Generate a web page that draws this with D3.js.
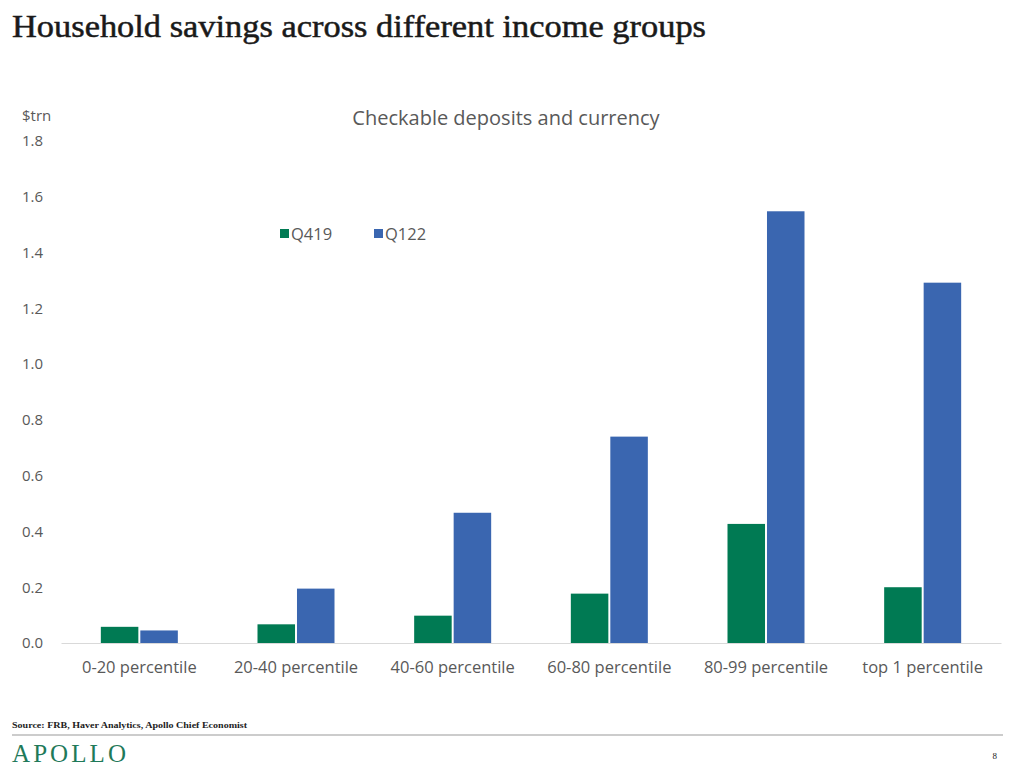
<!DOCTYPE html>
<html>
<head>
<meta charset="utf-8">
<script src="https://cdn.jsdelivr.net/npm/d3@7"></script>
<style>
    body { margin: 0; background: #fff; }
    svg { display: block; }
</style>
</head>
<body>
<svg id="chart" width="1024" height="775"></svg>
<script>
var categories = ['0-20 percentile', '20-40 percentile', '40-60 percentile', '60-80 percentile', '80-99 percentile', 'top 1 percentile'];
var seriesNames = ['Q419', 'Q122'];
var q419 = [0.058, 0.067, 0.098, 0.177, 0.427, 0.20];
var q122 = [0.045, 0.195, 0.467, 0.74, 1.548, 1.292];
var yTicks = [0, 0.2, 0.4, 0.6, 0.8, 1.0, 1.2, 1.4, 1.6, 1.8];

var colors = { Q419: '#007a53', Q122: '#3a66b0' };
var svg = d3.select('#chart');

var margin = { left: 61, right: 1001, top: 141, bottom: 643 };

var x = d3.scaleBand()
    .domain(categories)
    .range([margin.left, margin.right]);

var xInner = d3.scaleBand()
    .domain(seriesNames)
    .range([0, 77])
    .paddingInner(0.05);

var y = d3.scaleLinear()
    .domain([0, 1.8])
    .range([margin.bottom, margin.top]);

// title block
svg.append('text')
    .attr('x', 12)
    .attr('y', 37)
    .attr('textLength', 694)
    .attr('lengthAdjust', 'spacingAndGlyphs')
    .style('font-family', '"Liberation Serif", serif')
    .style('font-size', '31px')
    .style('fill', '#1a1a1a')
    .style('stroke', '#1a1a1a')
    .style('stroke-width', 0.5)
    .text('Household savings across different income groups');

svg.append('text')
    .attr('x', 506)
    .attr('y', 125)
    .attr('text-anchor', 'middle')
    .style('font-family', '"Open Sans", sans-serif')
    .style('font-size', '20px')
    .style('fill', '#595959')
    .text('Checkable deposits and currency');

svg.append('text')
    .attr('x', 22)
    .attr('y', 121)
    .style('font-family', '"Open Sans", sans-serif')
    .style('font-size', '15px')
    .style('fill', '#595959')
    .text('$trn');

// y tick labels (no axis line in the original)
var yAxis = svg.append('g')
    .attr('transform', 'translate(22,0)')
    .call(d3.axisLeft(y).tickValues(yTicks).tickFormat(d3.format('.1f')).tickSize(0));
yAxis.select('.domain').remove();
yAxis.selectAll('text')
    .attr('x', 0)
    .attr('text-anchor', 'start')
    .style('font-family', '"Open Sans", sans-serif')
    .style('font-size', '15px')
    .style('fill', '#595959');

// bars
var rows = categories.map(function(c, i) {
    return { category: c, values: [{ key: 'Q419', value: q419[i] }, { key: 'Q122', value: q122[i] }] };
});

var groups = svg.selectAll('.group')
    .data(rows)
    .enter().append('g')
    .attr('class', 'group')
    .attr('transform', function(d) {
        return 'translate(' + (x(d.category) + x.bandwidth() / 2 - 38.5) + ',0)';
    });

groups.selectAll('rect')
    .data(function(d) { return d.values; })
    .enter().append('rect')
    .attr('x', function(d) { return xInner(d.key); })
    .attr('width', xInner.bandwidth())
    .attr('y', function(d) { return y(d.value); })
    .attr('height', function(d) { return y(0) - y(d.value); })
    .style('fill', function(d) { return colors[d.key]; });

// baseline + category labels
var xAxis = svg.append('g')
    .attr('transform', 'translate(0,' + y(0) + ')')
    .call(d3.axisBottom(x).tickSize(0).tickPadding(18));
xAxis.select('.domain').attr('stroke', '#d9d9d9');
xAxis.selectAll('text')
    .style('font-family', '"Open Sans", sans-serif')
    .style('font-size', '16.5px')
    .style('fill', '#595959');

// legend
var legend = svg.append('g').attr('transform', 'translate(280,0)');
seriesNames.forEach(function(name, i) {
    var lg = legend.append('g').attr('transform', 'translate(' + (i * 94) + ',0)');
    lg.append('rect')
        .attr('x', 0).attr('y', 229)
        .attr('width', 9).attr('height', 9)
        .style('fill', colors[name]);
    lg.append('text')
        .attr('x', 11).attr('y', 240)
        .style('font-family', '"Open Sans", sans-serif')
        .style('font-size', '16.5px')
        .style('fill', '#595959')
        .text(name);
});

// footer
svg.append('text')
    .attr('x', 12)
    .attr('y', 728)
    .attr('textLength', 235)
    .attr('lengthAdjust', 'spacingAndGlyphs')
    .style('font-family', '"Liberation Serif", serif')
    .style('font-size', '9px')
    .style('font-weight', 'bold')
    .style('fill', '#222')
    .text('Source: FRB, Haver Analytics, Apollo Chief Economist');

svg.append('line')
    .attr('x1', 12).attr('x2', 1003)
    .attr('y1', 735).attr('y2', 735)
    .style('stroke', '#999')
    .style('stroke-width', 1);

svg.append('text')
    .attr('x', 12)
    .attr('y', 762)
    .attr('textLength', 114)
    .attr('lengthAdjust', 'spacing')
    .style('font-family', '"Liberation Serif", serif')
    .style('font-size', '25px')
    .style('fill', '#1f7a5a')
    .text('APOLLO');

svg.append('text')
    .attr('x', 997)
    .attr('y', 759)
    .attr('text-anchor', 'end')
    .style('font-family', '"Liberation Serif", serif')
    .style('font-size', '9px')
    .style('fill', '#222')
    .text('8');
</script>
</body>
</html>
